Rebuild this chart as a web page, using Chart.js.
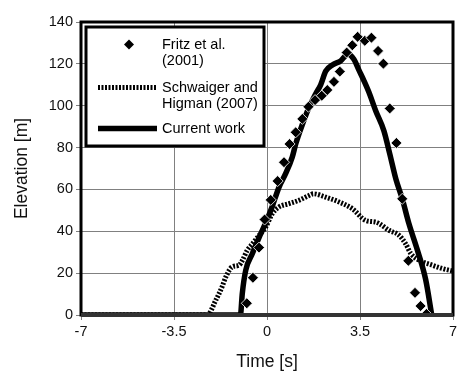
<!DOCTYPE html>
<html>
<head>
<meta charset="utf-8">
<script src="https://cdn.jsdelivr.net/npm/chart.js@4/dist/chart.umd.min.js"></script>
<style>
  html, body { margin: 0; padding: 0; background: #fff; }
  #wrap { width: 474px; height: 388px; }
</style>
</head>
<body>
<div id="wrap"><canvas id="waveChart"></canvas></div>
<script>
// measured points, Fritz et al. (2001)
var fritzTime = [-0.76,-0.53,-0.30,-0.09,0.14,0.40,0.64,0.85,1.08,1.33,1.56,1.81,2.06,2.27,2.52,2.74,3.00,3.21,3.41,3.68,3.93,4.18,4.38,4.62,4.87,5.09,5.32,5.57,5.78,6.00];
var fritzElev = [5.6,17.8,32.2,45.6,55,64,73,81.7,87.3,93.7,99.5,102.7,104.8,107.5,111.4,116.3,125.4,128.9,132.9,131,132.5,126.2,120.1,98.7,82.2,55.5,25.9,10.6,4.3,0.5];

// Schwaiger and Higman (2007)
var schwTime = [-7,-2.25,-1.93,-1.69,-1.55,-1.31,-1.05,-0.93,-0.74,-0.55,-0.30,-0.05,0.20,0.45,0.83,1.20,1.58,1.75,2.21,2.71,3.21,3.71,4.09,4.22,4.59,4.97,5.22,5.41,5.72,6.22,6.60,7.0];
var schwElev = [0,0,7,13.5,18.2,23,23.8,26,31,34,38,42,48.4,51.6,53.2,54.8,57.1,57.9,56.3,54,50.8,45.2,44.4,43.7,40.5,38.1,34,29.4,26.2,23.8,22.2,21];

// current work
var curTime = [-7,-1.0,-0.93,-0.8,-0.55,-0.3,-0.05,0.2,0.45,0.70,0.95,1.08,1.33,1.58,1.83,2.02,2.21,2.46,2.77,3.05,3.27,3.46,3.65,3.84,4.09,4.40,4.62,4.85,5.09,5.34,5.66,5.97,6.2];
var curElev = [0,0,10.3,21.4,29.4,37,44,52,61,67.5,75.4,81.7,91,99.2,105.6,110,116.5,119.5,121.4,124.6,122.2,117,111.9,106.3,97.6,88,77,65,55.5,43.7,31,17,0];

var legendLabels = [["Fritz et al.", "(2001)"], ["Schwaiger and", "Higman (2007)"], ["Current work"]];
var xTicks = [-7, -3.5, 0, 3.5, 7];

function pts(xs, ys) {
  return xs.map(function (x, i) { return { x: x, y: ys[i] }; });
}

var fontName = "'Liberation Sans', Arial, sans-serif";

// frame round the plot + boxed legend drawn on the canvas
var frameAndLegend = {
  id: 'frameAndLegend',
  afterDatasetsDraw: function (chart) {
    var ctx = chart.ctx, a = chart.chartArea;
    ctx.save();
    ctx.strokeStyle = '#000';
    ctx.lineWidth = 3;
    ctx.strokeRect(a.left, a.top, a.right - a.left, a.bottom - a.top);
    // bottom edge is a bit heavier and greyer
    ctx.strokeStyle = '#333';
    ctx.lineWidth = 4;
    ctx.beginPath();
    ctx.moveTo(a.left, a.bottom);
    ctx.lineTo(a.right, a.bottom);
    ctx.stroke();

    var bx = a.left + 5, by = a.top + 5, bw = 178, bh = 119;
    ctx.fillStyle = '#fff';
    ctx.fillRect(bx, by, bw, bh);
    ctx.strokeStyle = '#000';
    ctx.lineWidth = 3;
    ctx.strokeRect(bx, by, bw, bh);

    ctx.font = '14.5px ' + fontName;
    ctx.fillStyle = '#000';
    ctx.textBaseline = 'middle';
    var rows = [by + 17.5, by + 60.5, by + 101.5];
    chart.data.datasets.forEach(function (ds, i) {
      var y = rows[i];
      if (ds.showLine) {
        ctx.beginPath();
        ctx.setLineDash(ds.borderDash || []);
        ctx.lineWidth = ds.borderWidth;
        ctx.strokeStyle = ds.borderColor;
        ctx.moveTo(bx + 12, y);
        ctx.lineTo(bx + 71, y);
        ctx.stroke();
        ctx.setLineDash([]);
      } else {
        var r = 5;
        ctx.beginPath();
        ctx.moveTo(bx + 43, y - r);
        ctx.lineTo(bx + 43 + r, y);
        ctx.lineTo(bx + 43, y + r);
        ctx.lineTo(bx + 43 - r, y);
        ctx.closePath();
        ctx.fill();
      }
      legendLabels[i].forEach(function (line, j) {
        ctx.fillText(line, bx + 76, y + j * 16.5);
      });
    });
    ctx.restore();
  }
};

new Chart(document.getElementById('waveChart'), {
  type: 'scatter',
  data: {
    datasets: [
      {
        label: 'Fritz et al. (2001)',
        data: pts(fritzTime, fritzElev),
        showLine: false,
        pointStyle: 'rectRot',
        pointRadius: 5.5,
        backgroundColor: '#000',
        borderColor: '#fff',
        pointBorderWidth: 0.8
      },
      {
        label: 'Schwaiger and Higman (2007)',
        data: pts(schwTime, schwElev),
        showLine: true,
        pointRadius: 0,
        borderColor: '#000',
        borderWidth: 5,
        borderDash: [2, 1.5],
        cubicInterpolationMode: 'monotone'
      },
      {
        label: 'Current work',
        data: pts(curTime, curElev),
        showLine: true,
        pointRadius: 0,
        borderColor: '#000',
        borderWidth: 5.5,
        cubicInterpolationMode: 'monotone'
      }
    ]
  },
  options: {
    responsive: true,
    maintainAspectRatio: false,
    animation: false,
    layout: { padding: { left: 0, right: 21, top: 22, bottom: 0 } },
    plugins: {
      legend: { display: false },
      tooltip: { enabled: false }
    },
    scales: {
      x: {
        type: 'linear',
        min: -7,
        max: 7,
        afterFit: function (s) { s.height = 73; },
        afterBuildTicks: function (s) {
          s.ticks = xTicks.map(function (v) { return { value: v }; });
        },
        border: { display: false },
        grid: { color: '#808080', lineWidth: 1, tickLength: 5, drawTicks: true },
        ticks: {
          color: '#111',
          padding: 3,
          font: { size: 14.5, family: fontName },
          maxRotation: 0
        },
        title: {
          display: true,
          text: 'Time [s]',
          color: '#111',
          font: { size: 17.5, family: fontName },
          padding: { top: 0, bottom: 15 }
        }
      },
      y: {
        min: 0,
        max: 140,
        afterFit: function (s) { s.width = 81; },
        border: { display: false },
        grid: { color: '#808080', lineWidth: 1, tickLength: 5 },
        ticks: {
          stepSize: 20,
          color: '#111',
          padding: 3,
          font: { size: 14.5, family: fontName }
        },
        title: {
          display: true,
          text: 'Elevation [m]',
          color: '#111',
          font: { size: 17.5, family: fontName },
          padding: { top: 12, bottom: 0 }
        }
      }
    }
  },
  plugins: [frameAndLegend]
});
</script>
</body>
</html>
